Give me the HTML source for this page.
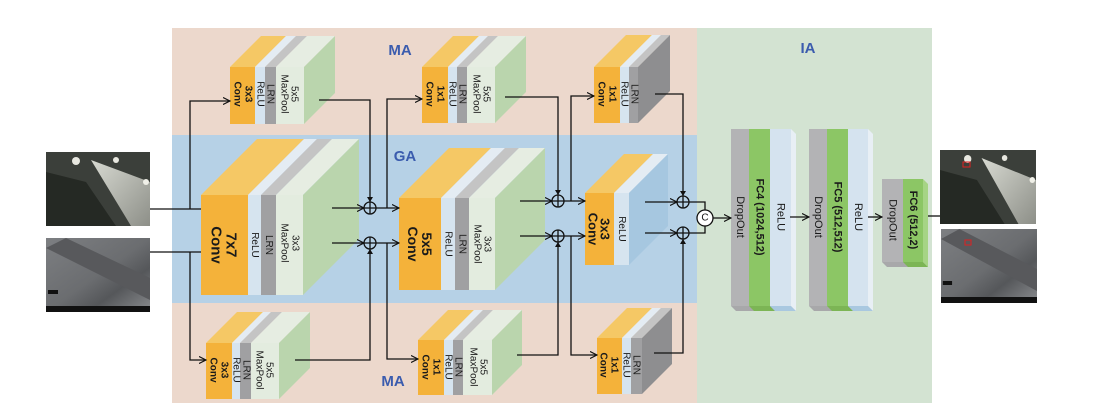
<!DOCTYPE html>
<html><head><meta charset="utf-8"><style>
html,body{margin:0;padding:0;background:#fff;}
svg{display:block;font-family:"Liberation Sans",sans-serif;}
.t{font-size:10px;fill:#1a1a1a;text-anchor:middle;dominant-baseline:central;}
.b{font-weight:bold;}
.ln{stroke:#111;stroke-width:1.3;fill:none;}
.lab{font-size:15px;font-weight:bold;fill:#3b5cae;text-anchor:middle;}
</style></head><body>
<svg width="1096" height="405" viewBox="0 0 1096 405" xmlns="http://www.w3.org/2000/svg">
<defs>
<marker id="a" markerWidth="8" markerHeight="8" refX="7" refY="4" orient="auto" markerUnits="userSpaceOnUse"><path d="M0,0.5 L7,4 L0,7.5" fill="none" stroke="#111" stroke-width="1.2"/></marker>
<marker id="s" markerWidth="6" markerHeight="6" refX="5" refY="3" orient="auto" markerUnits="userSpaceOnUse"><path d="M0,0 L5,3 L0,6z" fill="#111"/></marker>
<linearGradient id="im2" x1="0" y1="0" x2="1" y2="1"><stop offset="0" stop-color="#7d7f82"/><stop offset="0.5" stop-color="#6b6d70"/><stop offset="0.7" stop-color="#55575a"/><stop offset="1" stop-color="#8a8c8f"/></linearGradient>
<linearGradient id="road" x1="0" y1="0" x2="1" y2="1"><stop offset="0" stop-color="#d8dad2"/><stop offset="1" stop-color="#8d8f88"/></linearGradient>
<g id="night">
<rect x="0" y="0" width="104" height="74" fill="#3b3f3a"/>
<polygon points="45,8 104,30 104,74 85,74" fill="url(#road)"/>
<polygon points="0,20 40,30 70,74 0,74" fill="#252924"/>
<circle cx="30" cy="9" r="4" fill="#e8e8e0"/><circle cx="70" cy="8" r="3" fill="#e8e8e0"/><circle cx="100" cy="30" r="3" fill="#f0f0e8"/>
</g>
<g id="ir">
<rect x="0" y="0" width="104" height="74" fill="url(#im2)"/>
<polygon points="20,0 104,40 104,62 0,10" fill="#58595c"/>
<rect x="0" y="68" width="104" height="6" fill="#111"/>
<rect x="2" y="52" width="10" height="4" fill="#111"/>
</g>
</defs>
<rect x="172" y="28" width="525" height="375" fill="#ecd8cc"/>
<rect x="172" y="135" width="525" height="168" fill="#b6d1e6"/>
<rect x="697" y="28" width="235" height="375" fill="#d3e3d2"/>
<text class="lab" x="400" y="55">MA</text>
<text class="lab" x="405" y="161">GA</text>
<text class="lab" x="393" y="386">MA</text>
<text class="lab" x="808" y="53">IA</text>

<use href="#night" x="46" y="152"/>
<use href="#ir" x="46" y="238"/>
<use href="#night" x="940" y="150" transform="translate(940 150) scale(0.923 1) translate(-940 -150)"/>
<use href="#ir" x="941" y="229" transform="translate(941 229) scale(0.923 1) translate(-941 -229)"/>
<rect x="963" y="162" width="7" height="5" fill="none" stroke="#e02020" stroke-width="1"/>
<rect x="965" y="240" width="6" height="5" fill="none" stroke="#e02020" stroke-width="1"/>

<g>
<polygon points="201,195 248,195 304,139 257,139" fill="#f5c865"/>
<polygon points="248,195 261,195 317,139 304,139" fill="#e4ecf3"/>
<polygon points="261,195 276,195 332,139 317,139" fill="#c4c4c4"/>
<polygon points="276,195 303,195 359,139 332,139" fill="#e6ede2"/>
<polygon points="303,195 359,139 359,239 303,295" fill="#bad5ad"/>
<rect x="201" y="195" width="47" height="100" fill="#f4b23a"/>
<rect x="248" y="195" width="13" height="100" fill="#d6e4ef"/>
<rect x="261" y="195" width="15" height="100" fill="#a0a0a2"/>
<rect x="276" y="195" width="27" height="100" fill="#e3ecdf"/>
<text class="t b" style="font-size:15px" transform="rotate(90 231 245)" x="231" y="245">7x7</text>
<text class="t b" style="font-size:15px" transform="rotate(90 216 245)" x="216" y="245">Conv</text>
<text class="t" transform="rotate(90 254.5 245)" x="254.5" y="245">ReLU</text>
<text class="t" transform="rotate(90 268.5 245)" x="268.5" y="245">LRN</text>
<text class="t" transform="rotate(90 295 243)" x="295" y="243">3x3</text>
<text class="t" transform="rotate(90 284 243)" x="284" y="243">MaxPool</text>
</g>

<g>
<polygon points="399,198 441,198 491,148 449,148" fill="#f5c865"/>
<polygon points="441,198 455,198 505,148 491,148" fill="#e4ecf3"/>
<polygon points="455,198 469,198 519,148 505,148" fill="#c4c4c4"/>
<polygon points="469,198 495,198 545,148 519,148" fill="#e6ede2"/>
<polygon points="495,198 545,148 545,240 495,290" fill="#bad5ad"/>
<rect x="399" y="198" width="42" height="92" fill="#f4b23a"/>
<rect x="441" y="198" width="14" height="92" fill="#d6e4ef"/>
<rect x="455" y="198" width="14" height="92" fill="#a0a0a2"/>
<rect x="469" y="198" width="26" height="92" fill="#e3ecdf"/>
<text class="t b" style="font-size:14px" transform="rotate(90 427 244)" x="427" y="244">5x5</text>
<text class="t b" style="font-size:14px" transform="rotate(90 413 244)" x="413" y="244">Conv</text>
<text class="t" transform="rotate(90 448 244)" x="448" y="244">ReLU</text>
<text class="t" transform="rotate(90 462 244)" x="462" y="244">LRN</text>
<text class="t" transform="rotate(90 487 244)" x="487" y="244">3x3</text>
<text class="t" transform="rotate(90 477 244)" x="477" y="244">MaxPool</text>
</g>

<g>
<polygon points="585,193 614,193 653,154 624,154" fill="#f5c865"/>
<polygon points="614,193 629,193 668,154 653,154" fill="#e4ecf3"/>
<polygon points="629,193 668,154 668,226 629,265" fill="#a6c7e0"/>
<rect x="585" y="193" width="29" height="72" fill="#f4b23a"/>
<rect x="614" y="193" width="15" height="72" fill="#d6e4ef"/>
<text class="t b" style="font-size:13px" transform="rotate(90 605 229)" x="605" y="229">3x3</text>
<text class="t b" style="font-size:13px" transform="rotate(90 593 229)" x="593" y="229">Conv</text>
<text class="t" transform="rotate(90 621.5 229)" x="621.5" y="229">ReLU</text>
</g>

<g>
<polygon points="230,67 255,67 286,36 261,36" fill="#f5c865"/>
<polygon points="255,67 265,67 296,36 286,36" fill="#e4ecf3"/>
<polygon points="265,67 276,67 307,36 296,36" fill="#c4c4c4"/>
<polygon points="276,67 304,67 335,36 307,36" fill="#e6ede2"/>
<polygon points="304,67 335,36 335,93 304,124" fill="#bad5ad"/>
<rect x="230" y="67" width="25" height="57" fill="#f4b23a"/>
<rect x="255" y="67" width="10" height="57" fill="#d6e4ef"/>
<rect x="265" y="67" width="11" height="57" fill="#a0a0a2"/>
<rect x="276" y="67" width="28" height="57" fill="#e3ecdf"/>
<text class="t b" transform="rotate(90 248 94)" x="248" y="94">3x3</text>
<text class="t b" transform="rotate(90 237 94)" x="237" y="94">Conv</text>
<text class="t" transform="rotate(90 270 94)" x="270" y="94">LRN</text>
<text class="t" transform="rotate(90 260 94)" x="260" y="94">ReLU</text>
<text class="t" transform="rotate(90 294 94)" x="294" y="94">5x5</text>
<text class="t" transform="rotate(90 284 94)" x="284" y="94">MaxPool</text>
</g>
<g>
<polygon points="422,67 448,67 479,36 453,36" fill="#f5c865"/>
<polygon points="448,67 457,67 488,36 479,36" fill="#e4ecf3"/>
<polygon points="457,67 467,67 498,36 488,36" fill="#c4c4c4"/>
<polygon points="467,67 495,67 526,36 498,36" fill="#e6ede2"/>
<polygon points="495,67 526,36 526,92 495,123" fill="#bad5ad"/>
<rect x="422" y="67" width="26" height="56" fill="#f4b23a"/>
<rect x="448" y="67" width="9" height="56" fill="#d6e4ef"/>
<rect x="457" y="67" width="10" height="56" fill="#a0a0a2"/>
<rect x="467" y="67" width="28" height="56" fill="#e3ecdf"/>
<text class="t b" transform="rotate(90 440 94)" x="440" y="94">1x1</text>
<text class="t b" transform="rotate(90 429 94)" x="429" y="94">Conv</text>
<text class="t" transform="rotate(90 462 94)" x="462" y="94">LRN</text>
<text class="t" transform="rotate(90 452 94)" x="452" y="94">ReLU</text>
<text class="t" transform="rotate(90 486 94)" x="486" y="94">5x5</text>
<text class="t" transform="rotate(90 476 94)" x="476" y="94">MaxPool</text>
</g>
<g>
<polygon points="594,67 620,67 652,35 626,35" fill="#f5c865"/>
<polygon points="620,67 629,67 661,35 652,35" fill="#e4ecf3"/>
<polygon points="629,67 638,67 670,35 661,35" fill="#c4c4c4"/>
<polygon points="638,67 670,35 670,91 638,123" fill="#8e8e90"/>
<rect x="594" y="67" width="26" height="56" fill="#f4b23a"/>
<rect x="620" y="67" width="9" height="56" fill="#d6e4ef"/>
<rect x="629" y="67" width="9" height="56" fill="#a0a0a2"/>
<text class="t b" transform="rotate(90 612 94)" x="612" y="94">1x1</text>
<text class="t b" transform="rotate(90 601 94)" x="601" y="94">Conv</text>
<text class="t" transform="rotate(90 634 94)" x="634" y="94">LRN</text>
<text class="t" transform="rotate(90 624 94)" x="624" y="94">ReLU</text>
</g>
<g>
<polygon points="206,343 232,343 263,312 237,312" fill="#f5c865"/>
<polygon points="232,343 240,343 271,312 263,312" fill="#e4ecf3"/>
<polygon points="240,343 251,343 282,312 271,312" fill="#c4c4c4"/>
<polygon points="251,343 279,343 310,312 282,312" fill="#e6ede2"/>
<polygon points="279,343 310,312 310,368 279,399" fill="#bad5ad"/>
<rect x="206" y="343" width="26" height="56" fill="#f4b23a"/>
<rect x="232" y="343" width="8" height="56" fill="#d6e4ef"/>
<rect x="240" y="343" width="11" height="56" fill="#a0a0a2"/>
<rect x="251" y="343" width="28" height="56" fill="#e3ecdf"/>
<text class="t b" transform="rotate(90 224 370)" x="224" y="370">3x3</text>
<text class="t b" transform="rotate(90 213 370)" x="213" y="370">Conv</text>
<text class="t" transform="rotate(90 246 370)" x="246" y="370">LRN</text>
<text class="t" transform="rotate(90 236 370)" x="236" y="370">ReLU</text>
<text class="t" transform="rotate(90 269 370)" x="269" y="370">5x5</text>
<text class="t" transform="rotate(90 259 370)" x="259" y="370">MaxPool</text>
</g>
<g>
<polygon points="418,340 444,340 474,310 448,310" fill="#f5c865"/>
<polygon points="444,340 453,340 483,310 474,310" fill="#e4ecf3"/>
<polygon points="453,340 463,340 493,310 483,310" fill="#c4c4c4"/>
<polygon points="463,340 492,340 522,310 493,310" fill="#e6ede2"/>
<polygon points="492,340 522,310 522,365 492,395" fill="#bad5ad"/>
<rect x="418" y="340" width="26" height="55" fill="#f4b23a"/>
<rect x="444" y="340" width="9" height="55" fill="#d6e4ef"/>
<rect x="453" y="340" width="10" height="55" fill="#a0a0a2"/>
<rect x="463" y="340" width="29" height="55" fill="#e3ecdf"/>
<text class="t b" transform="rotate(90 436 367)" x="436" y="367">1x1</text>
<text class="t b" transform="rotate(90 425 367)" x="425" y="367">Conv</text>
<text class="t" transform="rotate(90 458 367)" x="458" y="367">LRN</text>
<text class="t" transform="rotate(90 448 367)" x="448" y="367">ReLU</text>
<text class="t" transform="rotate(90 483 367)" x="483" y="367">5x5</text>
<text class="t" transform="rotate(90 473 367)" x="473" y="367">MaxPool</text>
</g>
<g>
<polygon points="597,338 622,338 652,308 627,308" fill="#f5c865"/>
<polygon points="622,338 631,338 661,308 652,308" fill="#e4ecf3"/>
<polygon points="631,338 642,338 672,308 661,308" fill="#c4c4c4"/>
<polygon points="642,338 672,308 672,364 642,394" fill="#8e8e90"/>
<rect x="597" y="338" width="25" height="56" fill="#f4b23a"/>
<rect x="622" y="338" width="9" height="56" fill="#d6e4ef"/>
<rect x="631" y="338" width="11" height="56" fill="#a0a0a2"/>
<text class="t b" transform="rotate(90 614 365)" x="614" y="365">1x1</text>
<text class="t b" transform="rotate(90 603 365)" x="603" y="365">Conv</text>
<text class="t" transform="rotate(90 636 365)" x="636" y="365">LRN</text>
<text class="t" transform="rotate(90 626 365)" x="626" y="365">ReLU</text>
</g>

<g>
<polygon points="731,306 791,306 796,311 736,311" fill="#a8a8aa"/>
<polygon points="749,306 770,306 775,311 754,311" fill="#7cb555"/>
<polygon points="770,306 791,306 796,311 775,311" fill="#a9c8e0"/>
<polygon points="791,129 796,134 796,311 791,306" fill="#e8eff5"/>
<rect x="731" y="129" width="18" height="177" fill="#b3b3b5"/>
<rect x="749" y="129" width="21" height="177" fill="#8cc665"/>
<rect x="770" y="129" width="21" height="177" fill="#d5e3ef"/>
<text class="t" style="font-size:11px" transform="rotate(90 740 217)" x="740" y="217">DropOut</text>
<text class="t b" style="font-size:11px" transform="rotate(90 759.5 217)" x="759.5" y="217">FC4 (1024,512)</text>
<text class="t" style="font-size:11px" transform="rotate(90 780.5 217)" x="780.5" y="217">ReLU</text>

<polygon points="809,306 868,306 873,311 814,311" fill="#a8a8aa"/>
<polygon points="827,306 848,306 853,311 832,311" fill="#7cb555"/>
<polygon points="848,306 868,306 873,311 853,311" fill="#a9c8e0"/>
<polygon points="868,129 873,134 873,311 868,306" fill="#e8eff5"/>
<rect x="809" y="129" width="18" height="177" fill="#b3b3b5"/>
<rect x="827" y="129" width="21" height="177" fill="#8cc665"/>
<rect x="848" y="129" width="20" height="177" fill="#d5e3ef"/>
<text class="t" style="font-size:11px" transform="rotate(90 818 217)" x="818" y="217">DropOut</text>
<text class="t b" style="font-size:11px" transform="rotate(90 837.5 217)" x="837.5" y="217">FC5 (512,512)</text>
<text class="t" style="font-size:11px" transform="rotate(90 858 217)" x="858" y="217">ReLU</text>

<polygon points="882,262 923,262 928,267 887,267" fill="#a8a8aa"/>
<polygon points="903,262 923,262 928,267 908,267" fill="#7cb555"/>
<polygon points="923,179 928,184 928,267 923,262" fill="#a6d485"/>
<rect x="882" y="179" width="21" height="83" fill="#b3b3b5"/>
<rect x="903" y="179" width="20" height="83" fill="#8cc665"/>
<text class="t" style="font-size:11px" transform="rotate(90 892.5 220)" x="892.5" y="220">DropOut</text>
<text class="t b" style="font-size:11px" transform="rotate(90 913 220)" x="913" y="220">FC6 (512,2)</text>
</g>

<g class="ln">
<path d="M150,209 H201"/><path d="M150,252 H201"/>
<path d="M190,209 V101 H230" marker-end="url(#a)"/>
<path d="M190,252 V360 H206" marker-end="url(#a)"/>
<path d="M332,208 H364" marker-end="url(#a)"/>
<path d="M332,243 H364" marker-end="url(#a)"/>
<path d="M319,100 H370 V202" marker-end="url(#s)"/>
<path d="M295,360 H370 V249" marker-end="url(#s)"/>
<path d="M376,208 H399" marker-end="url(#a)"/>
<path d="M376,243 H399" marker-end="url(#a)"/>
<path d="M387,208 V99 H422" marker-end="url(#a)"/>
<path d="M387,243 V359 H418" marker-end="url(#a)"/>
<path d="M520,201 H552" marker-end="url(#a)"/>
<path d="M520,236 H552" marker-end="url(#a)"/>
<path d="M505,97 H558 V195" marker-end="url(#s)"/>
<path d="M517,355 H558 V242" marker-end="url(#s)"/>
<path d="M564,201 H585" marker-end="url(#a)"/>
<path d="M564,236 H585" marker-end="url(#a)"/>
<path d="M571,201 V96 H594" marker-end="url(#a)"/>
<path d="M571,236 V355 H597" marker-end="url(#a)"/>
<path d="M645,202 H677" marker-end="url(#a)"/>
<path d="M645,233 H677" marker-end="url(#a)"/>
<path d="M655,94 H683 V196" marker-end="url(#s)"/>
<path d="M654,353 H683 V239" marker-end="url(#s)"/>
<path d="M689,202 H705 V210"/>
<path d="M689,233 H705 V226"/>
<path d="M713,218 H731" marker-end="url(#a)"/>
<path d="M790,217 H809" marker-end="url(#a)"/>
<path d="M868,217 H882" marker-end="url(#a)"/>
<path d="M928,216 H940"/>
</g>
<g fill="none" stroke="#111" stroke-width="1.3">
<circle cx="370" cy="208" r="6"/><path d="M364,208H376M370,202V214"/>
<circle cx="370" cy="243" r="6"/><path d="M364,243H376M370,237V249"/>
<circle cx="558" cy="201" r="6"/><path d="M552,201H564M558,195V207"/>
<circle cx="558" cy="236" r="6"/><path d="M552,236H564M558,230V242"/>
<circle cx="683" cy="202" r="6"/><path d="M677,202H689M683,196V208"/>
<circle cx="683" cy="233" r="6"/><path d="M677,233H689M683,227V239"/>
<circle cx="705" cy="218" r="8" fill="#fff"/>
</g>
<text x="705" y="218" style="font-size:10px" text-anchor="middle" dominant-baseline="central" fill="#111">C</text>
</svg>
</body></html>
